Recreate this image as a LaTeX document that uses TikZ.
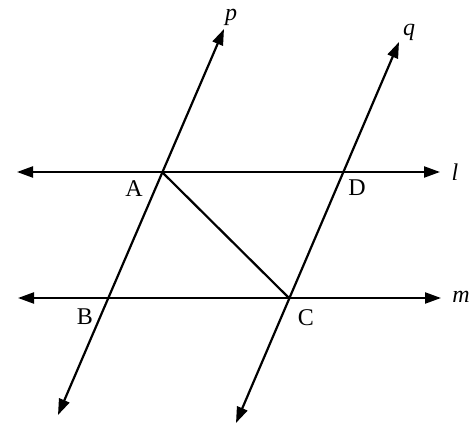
\documentclass[tikz,border=0pt]{standalone}
\usepackage{fontspec}
\setmainfont{Liberation Serif}
\usetikzlibrary{arrows.meta}
\begin{document}
\begin{tikzpicture}[x=1pt,y=-1pt,
  dline/.style={line width=2.2pt, {Triangle[length=16pt,width=11pt]}-{Triangle[length=16pt,width=11pt]}},
  seg/.style={line width=2.2pt},
  lab/.style={font=\fontsize{24}{26}\selectfont, inner sep=0pt},
  ilab/.style={font=\fontsize{24}{26}\selectfont\itshape, inner sep=0pt}]
\useasboundingbox (0,0) rectangle (474,425);
\coordinate (A) at (162,172);
\coordinate (D) at (343,172);
\coordinate (B) at (107,298);
\coordinate (C) at (289,298);
\coordinate (lL) at (17,172);
\coordinate (lR) at (440,172);
\coordinate (mL) at (18,298);
\coordinate (mR) at (441,298);
\coordinate (pT) at (224,29);
\coordinate (pB) at (58,415);
\coordinate (qT) at (399,42);
\coordinate (qB) at (236,423);
\draw[dline] (lL) -- (lR);
\draw[dline] (mL) -- (mR);
\draw[dline] (pB) -- (pT);
\draw[dline] (qB) -- (qT);
\draw[seg] (A) -- (C);
\node[lab] (tA) at (134,189) {A};
\node[lab] (tD) at (357,188) {D};
\node[lab] (tB) at (85,317) {B};
\node[lab] (tC) at (306,318) {C};
\node[ilab] (tl) at (455,172) {l};
\node[ilab] (tm) at (461,297) {m};
\node[ilab] (tp) at (231,17) {p};
\node[ilab] (tq) at (409,32) {q};
\end{tikzpicture}
\end{document}
